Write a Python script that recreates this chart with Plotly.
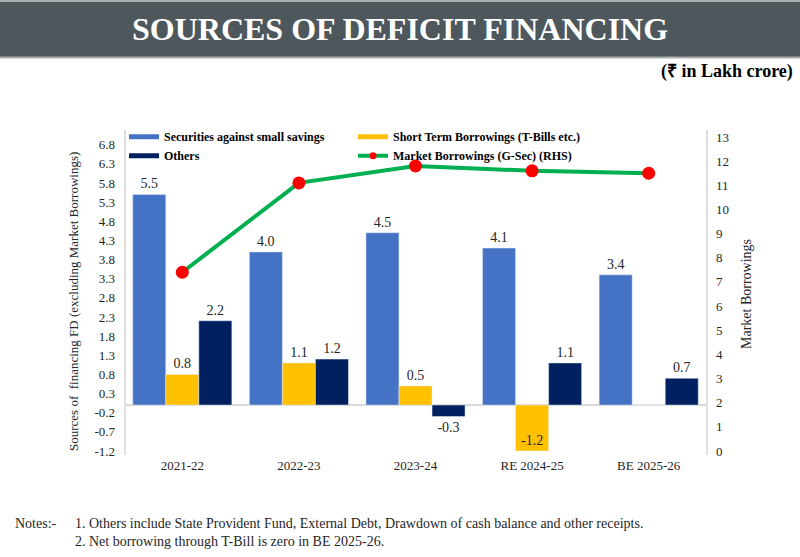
import plotly.graph_objects as go

categories = ["2021-22", "2022-23", "2023-24", "RE 2024-25", "BE 2025-26"]
small_savings = [5.5, 4.0, 4.5, 4.1, 3.4]
short_term = [0.8, 1.1, 0.5, -1.2, 0.0]
others = [2.2, 1.2, -0.3, 1.1, 0.7]
market_borrowings = [7.4, 11.1, 11.8, 11.6, 11.5]

left_ticks = [round(-1.2 + 0.5 * i, 1) for i in range(17)]
right_ticks = list(range(0, 14))

SERIF = "Liberation Serif, Times New Roman, serif"
C_BLUE = "#4472C4"
C_YELLOW = "#FFC000"
C_NAVY = "#002060"
C_GREEN = "#00B050"
C_RED = "#FF0000"
LBL = "#262626"
PW, PH, PL, PB = 583, 314, 124, 451  # plot width/height, left px, bottom px


def px(xp):
    return (xp - PL) / PW


def py(yp):
    return (PB - yp) / PH


def labels(vals):
    return ["" if v == 0 else f"{v:.1f}" for v in vals]


fig = go.Figure()

fig.add_trace(go.Bar(
    x=categories, y=small_savings, name="Securities against small savings",
    marker_color=C_BLUE, text=labels(small_savings), textposition="outside",
    textfont=dict(family=SERIF, size=14, color=LBL), cliponaxis=False,
    showlegend=False))
fig.add_trace(go.Bar(
    x=categories, y=short_term, name="Short Term Borrowings (T-Bills etc.)",
    marker_color=C_YELLOW, text=labels(short_term),
    textposition=["inside" if v <= -1 else "outside" for v in short_term],
    insidetextanchor="end",
    textfont=dict(family=SERIF, size=14, color=LBL),
    insidetextfont=dict(family=SERIF, size=14, color=LBL),
    cliponaxis=False, showlegend=False))
fig.add_trace(go.Bar(
    x=categories, y=others, name="Others",
    marker_color=C_NAVY, text=labels(others), textposition="outside",
    textfont=dict(family=SERIF, size=14, color=LBL), cliponaxis=False,
    showlegend=False))
fig.add_trace(go.Scatter(
    x=categories, y=market_borrowings, name="Market Borrowings (G-Sec) (RHS)",
    mode="lines+markers", yaxis="y2",
    line=dict(color=C_GREEN, width=4),
    marker=dict(color=C_RED, size=13), showlegend=False, cliponaxis=False))

# legend-only entries (thin swatches like the reference)
legend_items = [
    ("Securities against small savings", C_BLUE, False),
    ("Short Term Borrowings (T-Bills etc.)", C_YELLOW, False),
    ("Others", C_NAVY, False),
    ("Market Borrowings (G-Sec) (RHS)", C_GREEN, True),
]
for name, col, mk in legend_items:
    fig.add_trace(go.Scatter(
        x=[None], y=[None], name=name,
        mode="lines+markers" if mk else "lines",
        line=dict(color=col, width=5 if not mk else 4),
        marker=dict(color=C_RED, size=7) if mk else None,
        showlegend=True))

fig.update_layout(
    width=800, height=557,
    margin=dict(l=124, r=93, t=137, b=106),
    paper_bgcolor="white", plot_bgcolor="white",
    barmode="group", bargap=0.15, bargroupgap=0,
    font=dict(family=SERIF, size=13, color=LBL),
    legend=dict(
        orientation="h", x=0.0, xanchor="left", y=1.047, yanchor="top",
        entrywidth=184, entrywidthmode="pixels",
        font=dict(family=SERIF, size=12, color="#000000", weight="bold"),
        bgcolor="rgba(0,0,0,0)", itemwidth=30, tracegroupgap=0,
    ),
    xaxis=dict(
        type="category", showgrid=False, showline=False, ticks="",
        ticklabelstandoff=5,
        tickfont=dict(family=SERIF, size=13, color=LBL),
    ),
    yaxis=dict(
        range=[-1.2, 7.0], tickvals=left_ticks,
        ticktext=[f"{v:.1f}" for v in left_ticks],
        showgrid=False, zeroline=True, zerolinecolor="#D9D9D9", zerolinewidth=2,
        showline=False,
        ticks="", ticklabelstandoff=8,
        tickfont=dict(family=SERIF, size=13, color=LBL),
    ),
    yaxis2=dict(
        range=[0, 13], tickvals=right_ticks, overlaying="y", side="right",
        showgrid=False, zeroline=False, showline=False,
        ticks="", ticklabelstandoff=8,
        tickfont=dict(family=SERIF, size=13, color=LBL),
    ),
)

# plot-area side borders
for xb in (px(125), px(707)):
    fig.add_shape(type="line", xref="paper", yref="paper",
                  x0=xb, x1=xb, y0=py(455), y1=py(130),
                  line=dict(color="#E0E0E0", width=2))

# Title bar
fig.add_shape(type="rect", xref="paper", yref="paper",
              x0=px(0), x1=px(800), y0=py(57), y1=py(-2),
              fillcolor="#4D575C", line=dict(width=0), layer="below")
for yl in (57.5, 1):
    fig.add_shape(type="line", xref="paper", yref="paper",
                  x0=px(0), x1=px(800), y0=py(yl), y1=py(yl),
                  line=dict(color="#A9AEB0", width=2))

fig.add_annotation(text="<b>SOURCES OF DEFICIT FINANCING</b>",
                   xref="paper", yref="paper", x=px(400), y=py(29),
                   xanchor="center", yanchor="middle", showarrow=False,
                   font=dict(family=SERIF, size=32, color="white"))
fig.add_annotation(text="<b>(₹ in Lakh crore)</b>",
                   xref="paper", yref="paper", x=px(795), y=py(72),
                   xanchor="right", yanchor="middle", showarrow=False,
                   font=dict(family=SERIF, size=18, color="#000000"))

# Axis titles
fig.add_annotation(text="Sources of  financing FD (excluding Market Borrowings)",
                   xref="paper", yref="paper", x=px(73), y=py(302),
                   xanchor="center", yanchor="middle",
                   textangle=-90, showarrow=False,
                   font=dict(family=SERIF, size=13, color=LBL))
fig.add_annotation(text="Market Borrowings",
                   xref="paper", yref="paper", x=px(746), y=py(294),
                   xanchor="center", yanchor="middle",
                   textangle=-90, showarrow=False,
                   font=dict(family=SERIF, size=14, color=LBL))

# Notes
fig.add_annotation(text="Notes:-", xref="paper", yref="paper",
                   x=px(13), y=py(523),
                   xanchor="left", yanchor="middle", showarrow=False,
                   font=dict(family=SERIF, size=14, color=LBL))
fig.add_annotation(text="1. Others include State Provident Fund, External Debt, Drawdown of cash balance and other receipts.",
                   xref="paper", yref="paper", x=px(73), y=py(523),
                   xanchor="left", yanchor="middle", showarrow=False,
                   font=dict(family=SERIF, size=14, color=LBL))
fig.add_annotation(text="2. Net borrowing through T-Bill is zero in BE 2025-26.",
                   xref="paper", yref="paper", x=px(73), y=py(541),
                   xanchor="left", yanchor="middle", showarrow=False,
                   font=dict(family=SERIF, size=14, color=LBL))

fig.write_html("out.html")
